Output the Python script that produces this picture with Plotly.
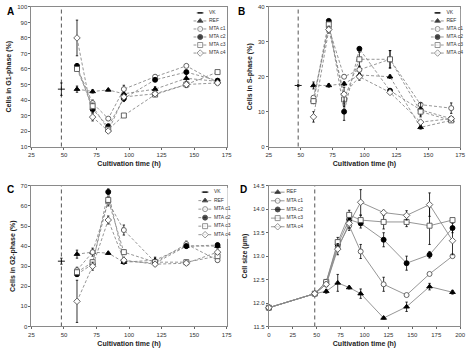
import plotly.graph_objects as go

SERIES = ["VK", "REF", "MTA c1", "MTA c2", "MTA c3", "MTA c4"]
TIMES = [60, 72, 84, 96, 120, 144, 168]
VK_TIME = [48]
SWITCH_TIME = 48

# Panel A: G1-phase (%)
G1_VK = [47]; G1_VK_ERR = [4]
G1 = {
    "REF":    [47, 45.5, 46.5, 44, 47, 54, 52],
    "MTA c1": [61, 38, 28, 47, 55, 62, 51],
    "MTA c2": [62, 34, 23, 41, 53, 58, 52.5],
    "MTA c3": [60, 36, 21, 30, 43.5, 50, 58],
    "MTA c4": [80, 29, 20, 42, 44, 50, 51],
}
G1_ERR = {
    "REF":    [2, 1, 0.5, 1, 1.5, 3, 1],
    "MTA c1": [1, 2, 1, 2.5, 1, 1, 1],
    "MTA c2": [1.5, 2, 1.5, 2, 1, 1, 1],
    "MTA c3": [1, 2, 1, 1, 1, 1, 1],
    "MTA c4": [11.5, 2.5, 1, 2, 1, 2, 1],
}

# Panel B: S-phase (%)
S_VK = [17.5]; S_VK_ERR = [0.3]
S = {
    "REF":    [17.5, 17.5, 18, 20.5, 20, 5.5, 7.5],
    "MTA c1": [14, 34, 20, 22, 25, 12, 11],
    "MTA c2": [13, 36, 10, 28, 16, 10.5, 8],
    "MTA c3": [13, 35, 13.5, 25, 25, 10, 7.5],
    "MTA c4": [8.5, 33.5, 15, 20, 15.5, 7, 8],
}
S_ERR = {
    "REF":    [1, 0.5, 0.5, 1, 0.5, 0.5, 0.5],
    "MTA c1": [0.5, 1, 0.5, 1, 2.5, 0.5, 1.5],
    "MTA c2": [0.5, 0.5, 2.5, 0.5, 0.5, 2, 0.5],
    "MTA c3": [0.5, 1, 2, 2, 2.5, 1, 0.5],
    "MTA c4": [1.5, 1, 2, 1, 0.5, 0.5, 0.5],
}

# Panel C: G2-phase (%)
G2_VK = [32.5]; G2_VK_ERR = [1.5]
G2 = {
    "REF":    [36, 37, 36.5, 32, 33, 40, 40],
    "MTA c1": [28, 37, 62, 48, 32, 41, 33],
    "MTA c2": [26, 31, 67, 32.5, 31.5, 40, 40.5],
    "MTA c3": [27, 32, 63, 37, 32, 32, 35],
    "MTA c4": [12.5, 30, 53, 33, 31, 31.5, 37],
}
G2_ERR = {
    "REF":    [2, 1, 0.5, 1, 1.5, 1, 1],
    "MTA c1": [1.5, 2, 2, 2.5, 1, 1.5, 1],
    "MTA c2": [1, 1, 1.5, 1, 1, 1, 1],
    "MTA c3": [1, 1, 1.5, 1, 1, 1, 1],
    "MTA c4": [10.5, 2, 2, 1.5, 1, 1, 1],
}

# Panel D: cell size (um)
D_SERIES = ["REF", "MTA c1", "MTA c2", "MTA c3", "MTA c4"]
D_TIMES = [0, 48, 60, 72, 84, 96, 120, 144, 168, 192]
SIZE = {
    "REF":    [11.9, 12.2, 12.25, 12.43, 12.33, 12.2, 11.68, 11.92, 12.35, 12.23],
    "MTA c1": [11.9, 12.2, 12.4, 13.2, 13.65, 13.1, 12.4, 12.17, 12.62, 13.0],
    "MTA c2": [11.9, 12.2, 12.45, 13.25, 13.78, 13.7, 13.35, 12.85, 13.03, 13.6],
    "MTA c3": [11.9, 12.2, 12.45, 13.3, 13.88, 13.77, 13.73, 13.73, 13.65, 13.77],
    "MTA c4": [11.9, 12.2, 12.4, 13.15, 13.7, 14.15, 13.93, 13.87, 14.1, 13.33],
}
SIZE_ERR = {
    "REF":    [0.05, 0.02, 0.04, 0.18, 0.03, 0.1, 0.02, 0.1, 0.07, 0.04],
    "MTA c1": [0.05, 0.02, 0.05, 0.1, 0.1, 0.15, 0.15, 0.02, 0.02, 0.02],
    "MTA c2": [0.05, 0.02, 0.05, 0.1, 0.1, 0.1, 0.15, 0.15, 0.07, 0.1],
    "MTA c3": [0.05, 0.02, 0.05, 0.1, 0.1, 0.1, 0.15, 0.1, 0.4, 0.02],
    "MTA c4": [0.05, 0.02, 0.05, 0.12, 0.1, 0.27, 0.05, 0.1, 0.25, 0.3],
}

STYLE = {
    "VK":     dict(symbol="line-ew", color="black", fill="black", size=5),
    "REF":    dict(symbol="triangle-up", color="black", fill="black", size=5),
    "MTA c1": dict(symbol="circle", color="#555", fill="white", size=5),
    "MTA c2": dict(symbol="circle", color="black", fill="black", size=5),
    "MTA c3": dict(symbol="square", color="#555", fill="white", size=5),
    "MTA c4": dict(symbol="diamond", color="#555", fill="white", size=5),
}

FONT = "Liberation Sans"
LINE_GRAY = "#8a8a8a"

fig = go.Figure()


def add_series(name, x, y, err, xa, ya, dash):
    st = STYLE[name]
    mode = "markers" if name == "VK" else "lines+markers"
    fig.add_trace(go.Scatter(
        x=x, y=y, mode=mode, name=name, showlegend=False,
        xaxis=xa, yaxis=ya,
        line=dict(color=LINE_GRAY, width=0.9, dash=dash),
        marker=dict(symbol=st["symbol"], size=st["size"], color=st["fill"],
                    line=dict(color=st["color"], width=0.9)),
        error_y=dict(type="data", array=err, color="black", thickness=0.8, width=1.2),
        cliponaxis=False,
    ))


panels = [
    ("x", "y", G1_VK, G1_VK_ERR, G1, G1_ERR),
    ("x2", "y2", S_VK, S_VK_ERR, S, S_ERR),
    ("x3", "y3", G2_VK, G2_VK_ERR, G2, G2_ERR),
]
for xa, ya, vk, vke, data, errs in panels:
    add_series("VK", VK_TIME, vk, vke, xa, ya, "3px,2px")
    for n in SERIES[1:]:
        add_series(n, TIMES, data[n], errs[n], xa, ya, "3px,2px")
for n in D_SERIES:
    add_series(n, D_TIMES, SIZE[n], SIZE_ERR[n], "x4", "y4", "solid")


# Custom compact legends (rows indexed by series order)
def add_legend(names, xa, ya, dash):
    for i, n in enumerate(names):
        st = STYLE[n]
        if n == "VK":
            xs, sizes = [0.45, 0.7, 0.95], [0, 5, 0]
            ln = dict(color="black", width=1.2)
        else:
            xs, sizes = [0, 0.7, 1.4], [0, st["size"], 0]
            ln = dict(color=LINE_GRAY, width=0.9, dash=dash)
        fig.add_trace(go.Scatter(
            x=xs, y=[i] * 3, mode="lines+markers", showlegend=False,
            xaxis=xa, yaxis=ya, hoverinfo="skip",
            line=ln,
            marker=dict(symbol=st["symbol"], size=sizes, color=st["fill"],
                        line=dict(color=st["color"], width=0.9)),
            cliponaxis=False,
        ))
        fig.add_trace(go.Scatter(
            x=[1.6], y=[i], mode="text", text=[n], textposition="middle right",
            textfont=dict(size=5, color="#333", family=FONT),
            showlegend=False, xaxis=xa, yaxis=ya, hoverinfo="skip", cliponaxis=False,
        ))


add_legend(SERIES, "x5", "y5", "3px,2px")
add_legend(SERIES, "x6", "y6", "3px,2px")
add_legend(SERIES, "x7", "y7", "3px,2px")
add_legend(D_SERIES, "x8", "y8", "solid")

W, H = 474, 356


def dx(a, b):
    return [a / W, b / W]


def dy(top, bot):
    return [1 - bot / H, 1 - top / H]


tickfont = dict(size=6, color="#333", family=FONT)
titlefont = dict(size=7, color="#222", family=FONT, weight="bold")


def axis(domain, rng, dtick, anchor, title, fmt=None, standoff=4):
    d = dict(domain=domain, range=rng, dtick=dtick, tick0=rng[0], anchor=anchor,
             showgrid=False, zeroline=False, showline=True, mirror=True,
             linecolor="#8a8a8a", linewidth=1, ticks="outside", ticklen=2,
             tickcolor="#666", tickfont=tickfont,
             title=dict(text=title, font=titlefont, standoff=standoff))
    if fmt:
        d["tickformat"] = fmt
    return d


def hidden(domain, rng, anchor):
    return dict(domain=domain, range=rng, anchor=anchor, visible=False,
                showgrid=False, zeroline=False, fixedrange=True)


XA, XB = dx(29, 228), dx(271, 466)
YTOP, YBOT = dy(4, 146), dy(186, 329)

layout = dict(
    width=W, height=H, margin=dict(l=0, r=0, t=0, b=0),
    paper_bgcolor="white", plot_bgcolor="white", showlegend=False,
    font=dict(family=FONT),
    xaxis=axis(XA, [25, 175], 25, "y", "Cultivation time (h)"),
    yaxis=axis(YTOP, [10, 100], 10, "x", "Cells in G1-phase (%)"),
    xaxis2=axis(XB, [25, 175], 25, "y2", "Cultivation time (h)"),
    yaxis2=axis(YTOP, [0, 40], 10, "x2", "Cells in S-phase (%)"),
    xaxis3=axis(XA, [25, 175], 25, "y3", "Cultivation time (h)"),
    yaxis3=axis(YBOT, [0, 70], 10, "x3", "Cells in G2-phase (%)"),
    xaxis4=axis(XB, [0, 200], 25, "y4", "Cultivation time (h)"),
    yaxis4=axis(YBOT, [11.5, 14.5], 0.5, "x4", "Cell size (µm)", fmt=".1f"),
    # legend axes
    xaxis5=hidden(dx(194, 224), [0, 3], "y5"),
    yaxis5=hidden(dy(6, 55), [5.5, -0.5], "x5"),
    xaxis6=hidden(dx(436, 466), [0, 3], "y6"),
    yaxis6=hidden(dy(6, 55), [5.5, -0.5], "x6"),
    xaxis7=hidden(dx(199, 229), [0, 3], "y7"),
    yaxis7=hidden(dy(188, 240), [5.5, -0.5], "x7"),
    xaxis8=hidden(dx(273, 303), [0, 3], "y8"),
    yaxis8=hidden(dy(188, 232), [4.5, -0.5], "x8"),
)
fig.update_layout(**layout)

# vertical dashed line at medium switch time
for xr, yr in [("x", "y"), ("x2", "y2"), ("x3", "y3"), ("x4", "y4")]:
    fig.add_shape(type="line", xref=xr, yref=yr + " domain", x0=SWITCH_TIME, x1=SWITCH_TIME,
                  y0=0, y1=1, line=dict(color="#555", width=1, dash="4px,3px"), layer="below")

# panel letters
for letter, x, y in [("A", 2, 1), ("B", 238, 1), ("C", 2, 182), ("D", 240, 182)]:
    fig.add_annotation(text=f"<b>{letter}</b>", xref="paper", yref="paper",
                       x=x / W, y=1 - y / H, xanchor="left", yanchor="top",
                       showarrow=False, font=dict(size=10, color="black", family=FONT))

fig.write_html(
    "out.html",
    config={"displayModeBar": False},
    post_script="document.body.style.margin='0';document.body.style.overflow='hidden';",
)
